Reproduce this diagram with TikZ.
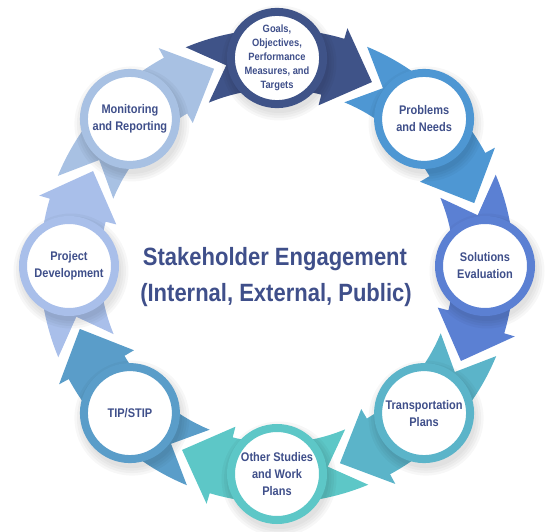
\documentclass[tikz,border=0pt]{standalone}
\usepackage{fontspec}
\setmainfont[FakeStretch=0.88]{Liberation Sans}
\usetikzlibrary{calc}
\definecolor{cA}{HTML}{3F5388}
\definecolor{cB}{HTML}{4E97D3}
\definecolor{cC}{HTML}{5B80D3}
\definecolor{cD}{HTML}{5BB4C9}
\definecolor{cE}{HTML}{5DC7C7}
\definecolor{cF}{HTML}{5A9DC9}
\definecolor{cG}{HTML}{A9BFEA}
\definecolor{cH}{HTML}{A8C1E3}
\definecolor{txt}{HTML}{3F4F8A}
\begin{document}
\begin{tikzpicture}[x=1pt,y=1pt,
  circ/.style={circle, minimum size=92pt, line width=8pt, fill=white, inner sep=0pt,
    align=center, text=txt, font=\bfseries\fontsize{12.5}{17}\selectfont},
  title/.style={anchor=base, text=txt, font=\bfseries\fontsize{25}{30}\selectfont},
  shade/.style={black, opacity=0.03}]
\useasboundingbox (0,0) rectangle (556,531);
\begin{scope}[shift={(277,265)}]
% curved chevron arrows
\foreach \a/\c in {90/cA,45/cB,0/cC,-45/cD,-90/cE,-135/cF,180/cG,135/cH}{
  \fill[\c] ({\a+22.65}:237) arc[start angle={\a+22.65}, end angle={\a-16.5}, radius=237]
    -- ({\a-16.5}:248) -- ({\a-27.3}:207) -- ({\a-14.5}:166) -- ({\a-14.5}:177)
    arc[start angle={\a-14.5}, end angle={\a+22.65}, radius=177]
    -- ({\a+14.2}:207) -- cycle;
}
% soft shadows under the circles
\foreach \a in {90,45,0,-45,-90,-135,180,135}{
  \foreach \r in {50,52.5,55,57.5}{
    \fill[shade] ([shift={(2,-5)}]\a:208) circle (\r);
  }
}
\node[circ, draw=cA, font=\bfseries\fontsize{10.6}{14}\selectfont] (goals) at (90:208)
  {Goals,\\Objectives,\\Performance\\Measures, and\\Targets};
\node[circ, draw=cB] (problems) at (45:208) {Problems\\and Needs};
\node[circ, draw=cC] (solutions) at (0:208) {Solutions\\Evaluation};
\node[circ, draw=cD] (transport) at (-45:208) {Transportation\\Plans};
\node[circ, draw=cE] (other) at (-90:208) {Other Studies\\and Work\\Plans};
\node[circ, draw=cF] (tip) at (-135:208) {TIP/STIP};
\node[circ, draw=cG] (project) at (180:208) {Project\\Development};
\node[circ, draw=cH] (monitor) at (135:208) {Monitoring\\and Reporting};
\end{scope}
\node[title] (t1) at (275,266) {Stakeholder Engagement};
\node[title] (t2) at (276,230) {(Internal, External, Public)};
\end{tikzpicture}
\end{document}
